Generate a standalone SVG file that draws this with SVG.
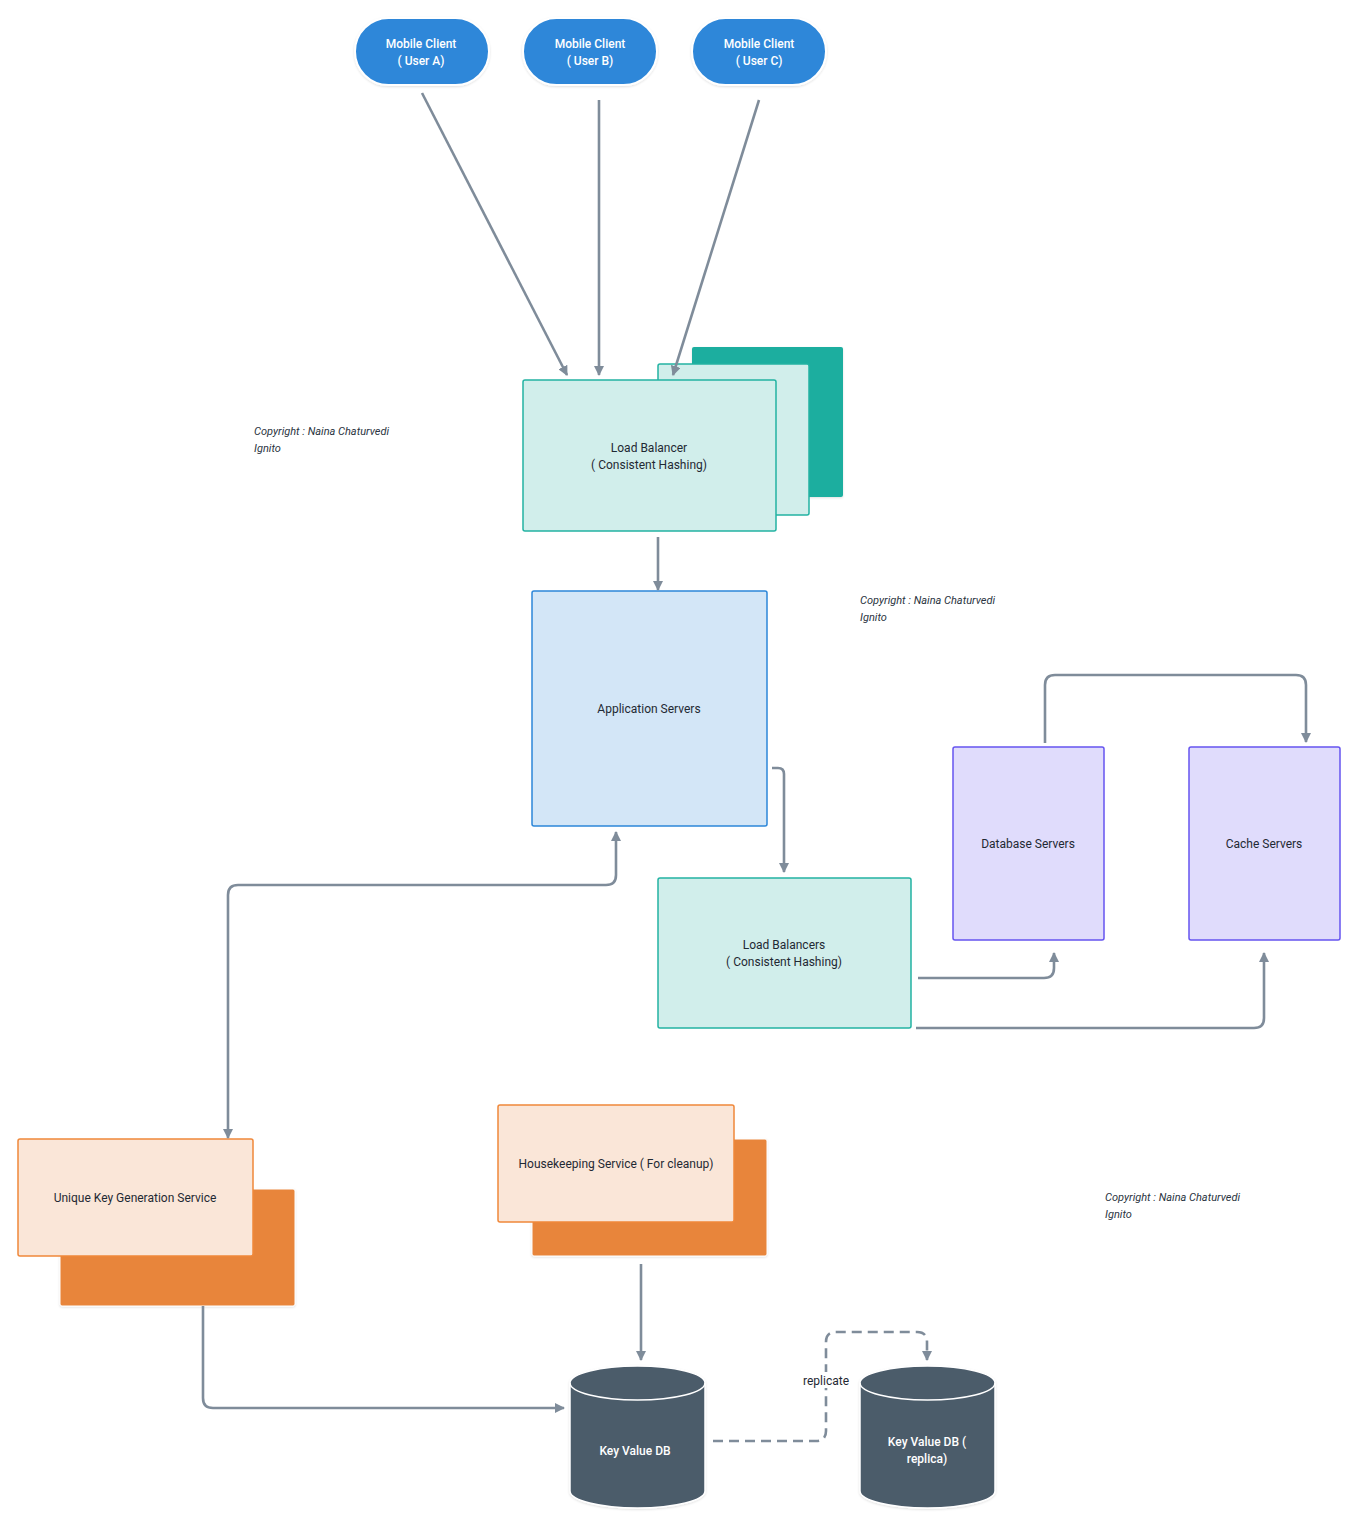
<svg xmlns="http://www.w3.org/2000/svg" width="1358" height="1527" viewBox="0 0 1358 1527">
<defs>
<marker id="ah" viewBox="0 0 10 10" refX="9" refY="5" markerWidth="10" markerHeight="10" markerUnits="userSpaceOnUse" orient="auto-start-reverse">
<path d="M0,0 L10,5 L0,10 z" fill="#7f8c9a"/>
</marker>
<filter id="sh" x="-10%" y="-10%" width="130%" height="130%">
<feDropShadow dx="0" dy="1" stdDeviation="1.2" flood-color="#000" flood-opacity="0.12"/>
</filter>
</defs>
<style>
.t{font-family:Roboto,"Noto Sans","Liberation Sans",sans-serif;font-size:12px;fill:#1f2933;text-anchor:middle}
.w{fill:#ffffff;font-weight:500}
.c{font-family:Roboto,"Noto Sans","Liberation Sans",sans-serif;font-size:11px;font-style:italic;fill:#2a3441}
.ln{fill:none;stroke:#7f8c9a;stroke-width:2.6;stroke-linejoin:round}
.pill{fill:#2d87d9;stroke:#ffffff;stroke-width:2}
.lb{fill:#d1eeeb;stroke:#23b3a3;stroke-width:1.5}
.app{fill:#d3e6f7;stroke:#2d87d9;stroke-width:1.5}
.srv{fill:#e0dcfc;stroke:#6554f0;stroke-width:1.5}
.og{fill:#fae6d8;stroke:#f0883a;stroke-width:1.5}
.od{fill:#e8853a;stroke:#ffffff;stroke-width:1}
.db{fill:#4b5b6b;stroke:#ffffff;stroke-width:1.5}
</style>

<g id="client-a">
<rect class="pill" x="355" y="18" width="134" height="67" rx="33.5" filter="url(#sh)"/>
<text class="t w" x="421" y="48">Mobile Client</text>
<text class="t w" x="421" y="65">( User A)</text>
</g>
<g id="client-b">
<rect class="pill" x="523" y="18" width="134" height="67" rx="33.5" filter="url(#sh)"/>
<text class="t w" x="590" y="48">Mobile Client</text>
<text class="t w" x="590" y="65">( User B)</text>
</g>
<g id="client-c">
<rect class="pill" x="692" y="18" width="134" height="67" rx="33.5" filter="url(#sh)"/>
<text class="t w" x="759" y="48">Mobile Client</text>
<text class="t w" x="759" y="65">( User C)</text>
</g>

<g id="load-balancer">
<rect x="692" y="347" width="151" height="150" rx="2" fill="#1aae9f" filter="url(#sh)"/>
<rect class="lb" x="658" y="364" width="151" height="151" rx="2"/>
<rect class="lb" x="523" y="380" width="253" height="151" rx="2"/>
<text class="t" x="649" y="452">Load Balancer</text>
<text class="t" x="649" y="469">( Consistent Hashing)</text>
</g>

<g id="app-servers">
<rect class="app" x="532" y="591" width="235" height="235" rx="2"/>
<text class="t" x="649" y="713">Application Servers</text>
</g>

<g id="load-balancers">
<rect class="lb" x="658" y="878" width="253" height="150" rx="2"/>
<text class="t" x="784" y="949">Load Balancers</text>
<text class="t" x="784" y="966">( Consistent Hashing)</text>
</g>

<g id="database-servers">
<rect class="srv" x="953" y="747" width="151" height="193" rx="2"/>
<text class="t" x="1028" y="848">Database Servers</text>
</g>

<g id="cache-servers">
<rect class="srv" x="1189" y="747" width="151" height="193" rx="2"/>
<text class="t" x="1264" y="848">Cache Servers</text>
</g>

<g id="unique-key">
<rect class="od" x="60" y="1189" width="235" height="117" rx="2" filter="url(#sh)"/>
<rect class="og" x="18" y="1139" width="235" height="117" rx="2"/>
<text class="t" x="135" y="1202">Unique Key Generation Service</text>
</g>

<g id="housekeeping">
<rect class="od" x="532" y="1139" width="235" height="117" rx="2" filter="url(#sh)"/>
<rect class="og" x="498" y="1105" width="236" height="117" rx="2"/>
<text class="t" x="616" y="1168">Housekeeping Service ( For cleanup)</text>
</g>

<g id="kv-db">
<path class="db" d="M570,1383 A67.5,17 0 0 1 705,1383 V1491 A67.5,17 0 0 1 570,1491 Z" filter="url(#sh)"/>
<path d="M570,1383 A67.5,17 0 0 0 705,1383" fill="none" stroke="#ffffff" stroke-width="1.5"/>
<text class="t w" x="635" y="1455">Key Value DB</text>
</g>

<g id="kv-db-replica">
<path class="db" d="M860,1383 A67.5,17 0 0 1 995,1383 V1491 A67.5,17 0 0 1 860,1491 Z" filter="url(#sh)"/>
<path d="M860,1383 A67.5,17 0 0 0 995,1383" fill="none" stroke="#ffffff" stroke-width="1.5"/>
<text class="t w" x="927" y="1446">Key Value DB (</text>
<text class="t w" x="927" y="1463">replica)</text>
</g>

<g id="copyright">
<text class="c" x="254" y="435">Copyright : Naina Chaturvedi</text>
<text class="c" x="254" y="452">Ignito</text>
<text class="c" x="860" y="604">Copyright : Naina Chaturvedi</text>
<text class="c" x="860" y="621">Ignito</text>
<text class="c" x="1105" y="1201">Copyright : Naina Chaturvedi</text>
<text class="c" x="1105" y="1218">Ignito</text>
</g>

<g id="connectors">
<line class="ln" x1="422" y1="93" x2="567" y2="375" marker-end="url(#ah)"/>
<line class="ln" x1="599" y1="100" x2="599" y2="375" marker-end="url(#ah)"/>
<line class="ln" x1="759" y1="100" x2="673" y2="375" marker-end="url(#ah)"/>
<line class="ln" x1="658" y1="537" x2="658" y2="590" marker-end="url(#ah)"/>
<path class="ln" d="M772,768 H778 Q784,768 784,774 V872" marker-end="url(#ah)"/>
<path class="ln" d="M616,832 V875 Q616,885 606,885 H238 Q228,885 228,895 V1138" marker-start="url(#ah)" marker-end="url(#ah)"/>
<path class="ln" d="M1045,743 V685 Q1045,675 1055,675 H1296 Q1306,675 1306,685 V742" marker-end="url(#ah)"/>
<path class="ln" d="M918,978 H1044 Q1054,978 1054,968 V953" marker-end="url(#ah)"/>
<path class="ln" d="M916,1028 H1254 Q1264,1028 1264,1018 V953" marker-end="url(#ah)"/>
<line class="ln" x1="641" y1="1264" x2="641" y2="1360" marker-end="url(#ah)"/>
<path class="ln" d="M203,1306 V1398 Q203,1408 213,1408 H564" marker-end="url(#ah)"/>
<path class="ln" d="M713,1441 H816 Q826,1441 826,1431 V1342 Q826,1332 836,1332 H917 Q927,1332 927,1342 V1360" stroke-dasharray="10,6" marker-end="url(#ah)"/>
<rect x="800" y="1372" width="52" height="16" fill="#ffffff"/>
<text class="t" x="826" y="1385">replicate</text>
</g>
</svg>
